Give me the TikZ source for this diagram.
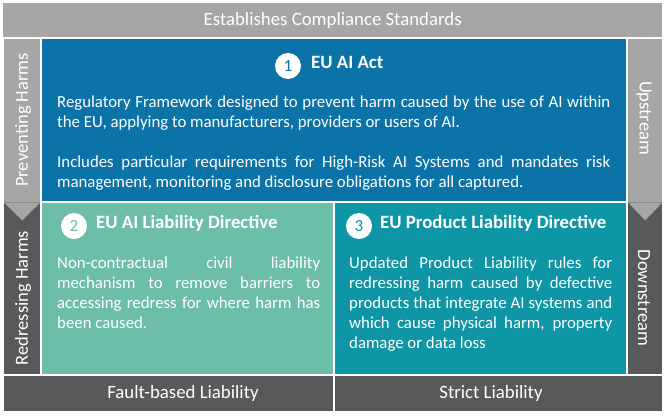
\documentclass[tikz,border=0pt]{standalone}
\usepackage{fontspec}
\setmainfont{Carlito}
\begin{document}
\begin{tikzpicture}[x=1pt,y=-1pt,
  region/.style={draw=none,inner sep=0pt,anchor=north west},
  side/.style={text=white,font=\fontsize{18.5}{20}\selectfont,inner sep=0pt},
  bartext/.style={text=white,font=\fontsize{18.8}{20}\selectfont,inner sep=0pt},
  num/.style={circle,fill=white,minimum size=26pt,inner sep=0pt,font=\fontsize{17}{18}\selectfont},
  title/.style={text=white,anchor=mid west,inner sep=0pt,font=\bfseries\fontsize{18.8}{20}\selectfont},
  body/.style={text=white,anchor=base west,inner sep=0pt,font=\fontsize{16.8}{20}\selectfont}
]
\definecolor{lightgrey}{RGB}{166,166,166}
\definecolor{darkgrey}{RGB}{88,89,91}
\definecolor{actblue}{RGB}{12,115,168}
\definecolor{mint}{RGB}{108,190,170}
\definecolor{teal}{RGB}{14,150,166}
\useasboundingbox (0,0) rectangle (666,418);
\fill[white] (0,0) rectangle (666,418);
% top bar
\node[region,fill=lightgrey,minimum width=659pt,minimum height=34pt] (top) at (3,3) {};
\node[bartext] (toptxt) at (top.center) {Establishes Compliance Standards};
% left column
\node[region,fill=darkgrey,minimum width=36pt,minimum height=172pt] (ldown) at (4,202) {};
\node[region,fill=lightgrey,minimum width=36pt,minimum height=163pt] (lup) at (4,39) {};
\fill[lightgrey] (lup.south west) -- (lup.south east) -- ([yshift=-18pt]lup.south) -- cycle;
\node[side,rotate=90] (lupt) at (23,120) {Preventing Harms};
\node[side,rotate=90] (ldownt) at (23,298) {Redressing Harms};
% right column
\node[region,fill=darkgrey,minimum width=34pt,minimum height=172pt] (rdown) at (628,202) {};
\node[region,fill=lightgrey,minimum width=34pt,minimum height=163pt] (rup) at (628,39) {};
\fill[lightgrey] (rup.south west) -- (rup.south east) -- ([yshift=-18pt]rup.south) -- cycle;
\node[side,rotate=-90] (rupt) at (644,118) {Upstream};
\node[side,rotate=-90] (rdownt) at (644,298) {Downstream};
% main boxes
\node[region,fill=actblue,minimum width=584pt,minimum height=162pt] (b1) at (42,39) {};
\node[region,fill=mint,minimum width=291pt,minimum height=171pt] (b2) at (42,203) {};
\node[region,fill=teal,minimum width=291pt,minimum height=171pt] (b3) at (335,203) {};
% bottom bar
\node[region,fill=darkgrey,minimum width=329pt,minimum height=35pt] (bl) at (4,376) {};
\node[region,fill=darkgrey,minimum width=327pt,minimum height=35pt] (br) at (335,376) {};
\node[bartext] (blt) at (183,393) {Fault-based Liability};
\node[bartext] (brt) at (491,393) {Strict Liability};
% box 1
\node[num,text=actblue] (n1) at (288,66) {1};
\node[title] (t1) at (311,66) {EU AI Act};
\node[body] (p1) at (57,107) {\parbox[t]{553pt}{\fontsize{16.8}{20}\selectfont
\makebox[553pt][s]{Regulatory Framework designed to prevent harm caused by the use of AI within}\\
the EU, applying to manufacturers, providers or users of AI.\\[20pt]
\makebox[553pt][s]{Includes particular requirements for High-Risk AI Systems and mandates risk}\\
management, monitoring and disclosure obligations for all captured.}};
% box 2
\node[num,text=mint] (n2) at (74,226) {2};
\node[title] (t2) at (96,226) {EU AI Liability Directive};
\node[body] (p2) at (57,268) {\parbox[t]{263pt}{\fontsize{16.8}{20}\selectfont
\makebox[263pt][s]{Non-contractual civil liability}\\
\makebox[263pt][s]{mechanism to remove barriers to}\\
\makebox[263pt][s]{accessing redress for where harm has}\\
been caused.}};
% box 3
\node[num,text=teal] (n3) at (359,226) {3};
\node[title] (t3) at (380,226) {EU Product Liability Directive};
\node[body] (p3) at (349,268) {\parbox[t]{263pt}{\fontsize{16.8}{20}\selectfont
\makebox[263pt][s]{Updated Product Liability rules for}\\
\makebox[263pt][s]{redressing harm caused by defective}\\
\makebox[263pt][s]{products that integrate AI systems and}\\
\makebox[263pt][s]{which cause physical harm, property}\\
damage or data loss}};
\end{tikzpicture}
\end{document}
